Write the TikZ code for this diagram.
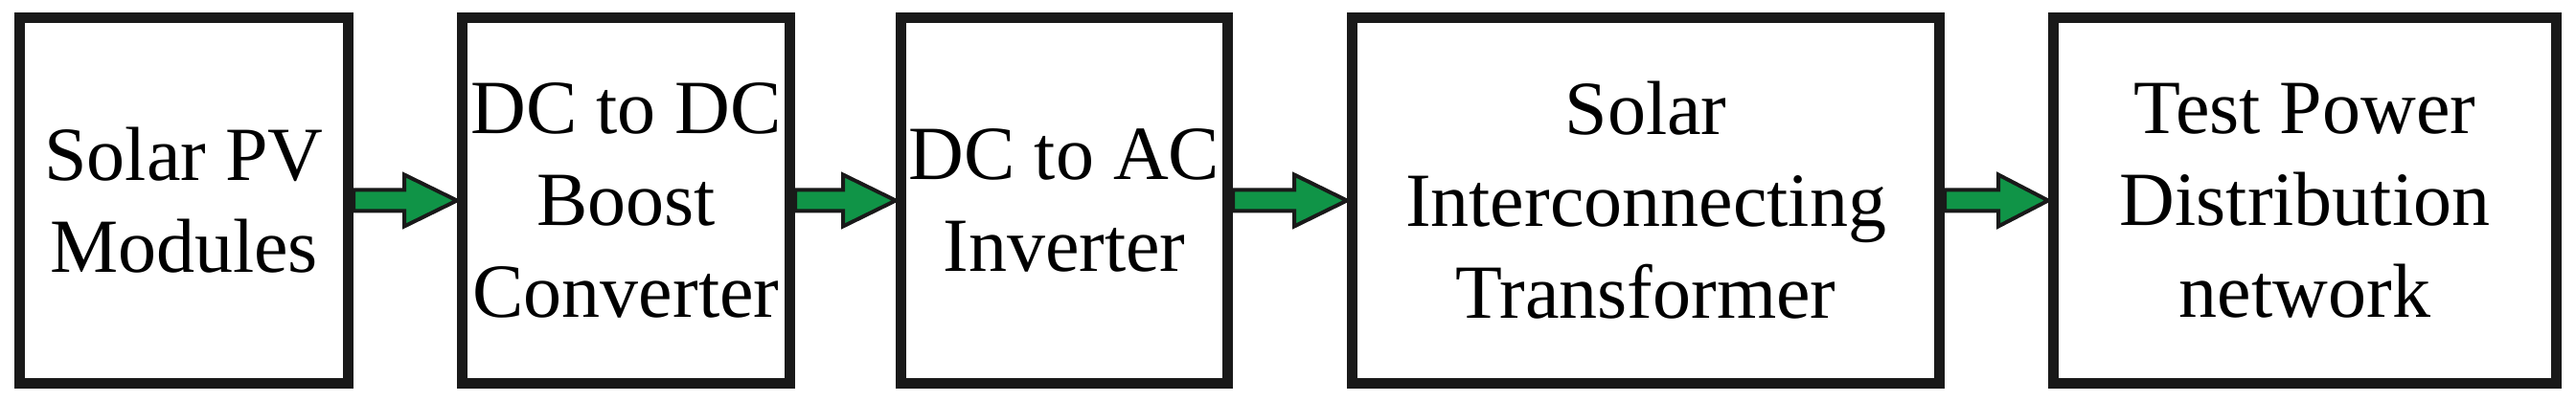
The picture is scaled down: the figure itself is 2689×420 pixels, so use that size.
\documentclass[tikz,border=0pt]{standalone}
\usepackage{fontspec}
\setmainfont{Liberation Serif}
\usetikzlibrary{calc,backgrounds}
\tikzset{
  blk/.style={draw=black!90, line width=11pt, fill=white, inner sep=0pt, align=center,
    minimum height=382pt, font=\fontsize{80}{96}\selectfont},
  arr/.style={draw=black!90, line width=4pt, fill={rgb,255:red,16;green,148;blue,71}, line join=miter}
}
\newcommand{\myarrow}[3]{%
  \draw[arr] ($(#1.east)+(0,11)$) -- ($(#2.west)+(-#3,11)$) -- ($(#2.west)+(-#3,27)$) -- (#2.west)
    -- ($(#2.west)+(-#3,-27)$) -- ($(#2.west)+(-#3,-11)$) -- ($(#1.east)+(0,-11)$) -- cycle;}
\begin{document}
\begin{tikzpicture}[x=1pt,y=1pt]
\useasboundingbox (0,0) rectangle (2689,420);
\node[blk, minimum width=343pt] (a) at (192,210.5) {Solar PV\\Modules};
\node[blk, minimum width=342pt] (b) at (653.5,210.5) {DC to DC\\Boost\\Converter};
\node[blk, minimum width=341pt] (c) at (1111,210.5) {DC to AC\\Inverter};
\node[blk, minimum width=613pt] (d) at (1718,210.5) {Solar\\Interconnecting\\Transformer};
\node[blk, minimum width=525pt] (e) at (2406,210.5) {Test Power\\Distribution\\network};
\begin{scope}[on background layer]
\myarrow{a}{b}{55}
\myarrow{b}{c}{55}
\myarrow{c}{d}{55}
\myarrow{d}{e}{52}
\end{scope}
\end{tikzpicture}
\end{document}
